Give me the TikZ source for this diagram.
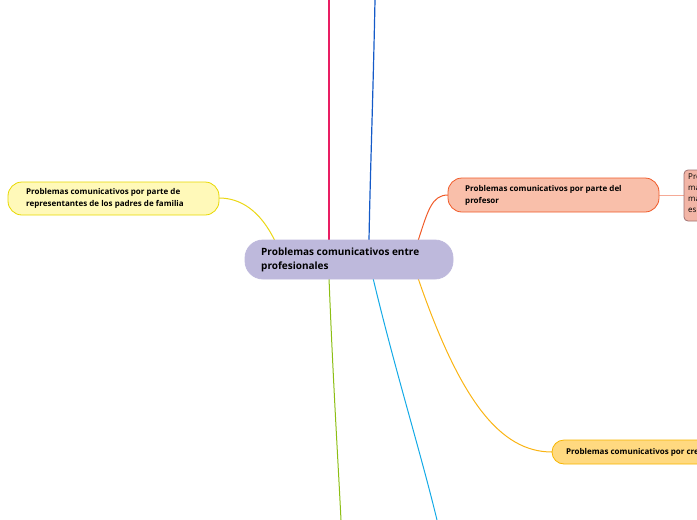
\documentclass[tikz,border=0pt]{standalone}
\usepackage{fontspec}
\setmainfont{Open Sans}
\begin{document}
\begin{tikzpicture}[x=1pt,y=-1pt,
 box/.style={rounded corners=12pt,line width=0.8pt},
 lbl/.style={font=\bfseries\fontsize{8}{12}\selectfont,align=left,anchor=west,inner sep=0pt}]
\useasboundingbox (0,0) rectangle (697,520);
\clip (0,0) rectangle (697,520);
% connectors
\draw[line width=1.2pt,color={rgb,255:red,233;green,30;blue,99}] (329,0) coordinate(p0) -- (329,241) coordinate(p1);
\draw[line width=1.2pt,color={rgb,255:red,20;green,90;blue,200}] (375,0) coordinate(b0) .. controls (373,100) and (370,180) .. (369,241) coordinate(b1);
\draw[line width=1pt,color={rgb,255:red,140;green,190;blue,20}] (329,278) coordinate(g0) .. controls (333,380) and (338,460) .. (341,520) coordinate(g1);
\draw[line width=1pt,color={rgb,255:red,20;green,170;blue,230}] (373,278) coordinate(c0) .. controls (395,370) and (420,450) .. (437,520) coordinate(c1);
\draw[line width=1pt,color={rgb,255:red,235;green,215;blue,20}] (275,241) .. controls (260,210) and (240,198) .. (219,198);
\draw[line width=1pt,color={rgb,255:red,240;green,90;blue,40}] (418,241) .. controls (428,210) and (432,195) .. (448,195);
\draw[line width=1pt,color={rgb,255:red,250;green,180;blue,20}] (418,278) .. controls (460,400) and (500,452) .. (552,452);
\draw[line width=0.8pt,color={rgb,255:red,245;green,170;blue,150}] (659,195) -- (684,195);
% nodes
\draw[box,rounded corners=18pt,fill={rgb,255:red,190;green,185;blue,220},draw={rgb,255:red,190;green,185;blue,220}] (245,240) rectangle (453,279);
\node[lbl,font=\bfseries\fontsize{10}{14}\selectfont] (c) at (261,259.5) {Problemas comunicativos entre\\profesionales};
\draw[box,rounded corners=14pt,fill={rgb,255:red,255;green,249;blue,185},draw={rgb,255:red,232;green,216;blue,0}] (8,182) rectangle (219,215);
\node[lbl] (l) at (26,198.5) {Problemas comunicativos por parte de\\representantes de los padres de familia};
\draw[box,rounded corners=14pt,fill={rgb,255:red,249;green,191;blue,170},draw={rgb,255:red,240;green,90;blue,40}] (448,178) rectangle (659,212);
\node[lbl] (r) at (465,195) {Problemas comunicativos por parte del\\profesor};
\draw[box,rounded corners=12pt,fill={rgb,255:red,255;green,217;blue,128},draw={rgb,255:red,247;green,181;blue,0}] (552,440) rectangle (760,464);
\node[lbl] (o) at (566,452) {Problemas comunicativos por creencias};
\draw[rounded corners=4pt,line width=0.8pt,fill={rgb,255:red,242;green,181;blue,166},draw={rgb,255:red,160;green,112;blue,112}] (684,170) rectangle (760,221);
\node[lbl,anchor=north west,font=\fontsize{8}{11}\selectfont] (x) at (688,173) {Problemas\\mala\\mala\\escucha};
\end{tikzpicture}
\end{document}
